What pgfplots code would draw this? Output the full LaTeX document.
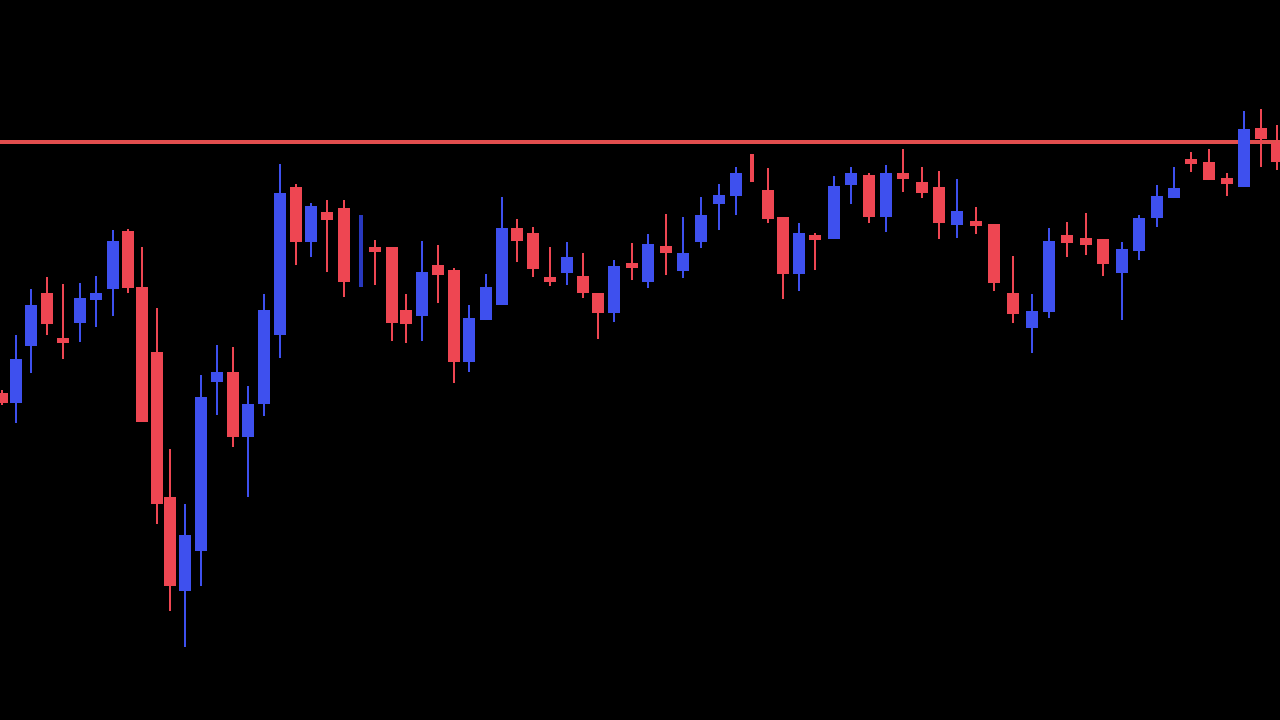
\documentclass[border=0pt]{standalone}
\usepackage{pgfplots}
\usepackage{pgfplotstable}
\pgfplotsset{compat=1.18}

\definecolor{candleup}{RGB}{62,80,238}
\definecolor{candledn}{RGB}{238,70,82}
\definecolor{faintup}{RGB}{40,56,190}
\definecolor{resline}{RGB}{226,78,78}

% rising candles: x o h l c
\pgfplotstableread{
x o h l c
16 317 385 297 361
31 374 431 347 415
80 397 437 378 422
96 420 444 393 427
113 431 490 404 479
185 129 216 73 185
201 169 345 134 323
217 338 375 305 348
248 283 334 223 316
264 316 426 304 410
280 385 556 362 527
311 478 517 463 514
422 404 479 379 448
469 358 415 348 402
486 400 446 400 433
502 415 523 415 492
567 447 478 435 463
614 407 460 398 454
648 438 486 432 476
683 449 503 442 467
701 478 523 472 505
719 516 536 490 525
736 524 553 505 547
799 446 497 429 487
834 481 544 481 534
851 535 553 516 547
886 503 555 488 547
957 495 541 482 509
1032 392 426 367 409
1049 408 492 402 479
1122 447 478 400 471
1139 469 505 460 502
1157 502 535 493 524
1174 522 553 522 532
1244 533 609 533 591
}\up

% falling candles: x o h l c
\pgfplotstableread{
x o h l c
2 327 330 315 317
47 427 443 385 396
63 382 436 361 377
128 489 491 427 432
142 433 473 298 298
157 368 412 196 216
170 223 271 109 134
233 348 373 273 283
296 533 536 455 478
327 508 520 448 500
344 512 520 423 438
375 473 480 435 468
392 473 473 379 397
406 410 426 377 396
438 455 475 417 445
454 450 452 337 358
517 492 501 458 479
533 487 493 443 451
550 443 473 434 438
583 444 467 422 427
598 427 427 381 407
632 457 477 440 452
666 474 506 445 467
768 530 552 497 501
783 503 503 421 446
815 485 487 450 480
869 545 547 497 503
903 547 571 528 541
922 538 553 522 527
939 533 549 481 497
976 499 513 486 494
994 496 496 429 437
1013 427 464 397 406
1067 485 498 463 477
1086 482 507 465 475
1103 481 481 444 456
1191 561 568 548 556
1209 558 571 540 540
1227 542 547 524 536
1261 592 611 553 581
1277 577 595 550 558
}\down

% two thin (fading) candles: x h l
\pgfplotstableread{
x h l
361 505 433
}\thinup
\pgfplotstableread{
x h l
752 566 538
}\thindn

\begin{document}
\begin{tikzpicture}
\fill[black] (0,0) rectangle (12.8cm,7.2cm);
\useasboundingbox (0,0) rectangle (12.8cm,7.2cm);
\begin{axis}[
  at={(0,0)}, anchor=south west,
  scale only axis, width=12.8cm, height=7.2cm,
  xmin=0, xmax=1280, ymin=0, ymax=720,
  hide axis, clip=true,
  bar/.style 2 args={draw=none, mark=none, forget plot,
    error bars/.cd, y dir=plus, y explicit, error mark=none,
    error bar style={line width=#2, draw=#1}},
]
% resistance line
\addplot[resline, line width=1pt, mark=none] coordinates {(0,578) (1280,578)};

\addplot[bar={candleup}{0.8pt}] table[x=x, y=l, y error plus expr=\thisrow{h}-\thisrow{l}] {\up};
\addplot[bar={candleup}{3.4pt}] table[x=x, y=o, y error plus expr=\thisrow{c}-\thisrow{o}] {\up};

\addplot[bar={candledn}{0.8pt}] table[x=x, y=l, y error plus expr=\thisrow{h}-\thisrow{l}] {\down};
\addplot[bar={candledn}{3.4pt}] table[x=x, y=c, y error plus expr=\thisrow{o}-\thisrow{c}] {\down};

\addplot[bar={faintup}{1.3pt}] table[x=x, y=l, y error plus expr=\thisrow{h}-\thisrow{l}] {\thinup};
\addplot[bar={candledn}{1.3pt}] table[x=x, y=l, y error plus expr=\thisrow{h}-\thisrow{l}] {\thindn};
\end{axis}
\end{tikzpicture}
\end{document}
